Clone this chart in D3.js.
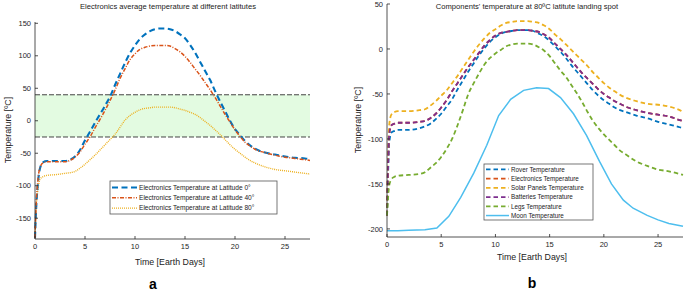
<!DOCTYPE html>
<html><head><meta charset="utf-8">
<script src="https://cdn.jsdelivr.net/npm/d3@7"></script>
<style>body{margin:0;background:#fff}svg{display:block;font-family:"Liberation Sans",Arial,sans-serif}</style>
</head><body>
<svg id="c" width="685" height="292"></svg>
<script>
// ---------- Panel a data ----------
const daysA = [0,0.1,0.3,0.5,0.8,1.2,2,3,3.5,4,4.5,5,5.5,6,6.5,7,7.5,8,8.5,9,9.5,10,10.5,11,11.5,12,12.5,13,13.5,14,14.5,15,15.5,16,16.5,17,17.5,18,18.5,19,19.5,20,20.5,21,21.5,22,23,24,25,26,27,27.5];
const lat0 = [-180,-140,-95,-73,-64,-62,-62,-62,-60,-55,-45,-30,-17,-3,10,23,37,55,72,89,104,116,126,133,138,141,142,142,141,138,133,127,117,105,91,77,63,46,30,15,0,-13,-22,-31,-38,-43,-49,-52,-55,-57,-58,-59];
const lat40 = [-180,-135,-90,-72,-65,-63,-63,-63,-61,-56,-48,-36,-25,-11,2,16,31,47,65,80,94,103,110,113,115,116,116,116,115,111,106,99,90,80,70,59,48,36,23,10,-2,-14,-24,-33,-39,-44,-49,-53,-56,-58,-60,-61];
const lat80 = [-180,-140,-105,-90,-86,-84,-83,-81,-80,-78,-73,-67,-60,-53,-45,-37,-29,-21,-10,1,8,13,17,19,20,21,21,21,21,20,18,16,13,10,5,-1,-7,-14,-21,-29,-37,-44,-50,-56,-61,-65,-71,-75,-77,-79,-81,-82];
const bandA = [40, -25];
const ticksAY = [-150,-100,-50,0,50,100,150];
const ticksX = [0,5,10,15,20,25];
const legendA = ["Electronics Temperature at Latitude 0°","Electronics Temperature at Latitude 40°","Electronics Temperature at Latitude 80°"];

// ---------- Panel b data ----------
const daysB = [0,0.1,0.2,0.4,0.7,1,2,3,3.5,4,4.5,5,5.5,6,6.5,7,7.5,8,8.5,9,9.5,10,10.5,11,11.5,12,12.5,13,13.5,14,14.5,15,15.5,16,16.5,17,17.5,18,18.5,19,19.5,20,20.5,21,21.5,22,23,24,25,26,27,27.3];
const rover = [-185,-140,-105,-93,-91,-90,-90,-88,-86,-83,-78,-72,-64,-56,-45,-35,-25,-16,-7,1,8,13,17,19,20,21,21,21,20,17,14,9,3,-3,-10,-18,-25,-32,-39,-46,-52,-57,-61,-65,-68,-70,-74,-77,-81,-84,-87,-88];
const electronics = [-185,-130,-95,-85,-83,-82,-82,-81,-80,-77,-72,-65,-57,-47,-38,-29,-20,-12,-4,4,10,15,18,19,20,21,21,21,20,19,16,12,6,0,-6,-13,-20,-27,-33,-39,-45,-50,-54,-58,-61,-64,-68,-71,-73,-75,-79,-80];
const solar = [-185,-120,-85,-73,-70,-69,-69,-68,-67,-63,-58,-52,-46,-38,-30,-21,-12,-3,5,12,18,22,26,29,30,31,31,31,30,29,26,22,16,11,5,-1,-7,-13,-19,-26,-32,-38,-43,-47,-51,-54,-58,-61,-62,-64,-68,-70];
const batteries = [-185,-130,-95,-85,-83,-82,-82,-81,-80,-77,-72,-65,-57,-47,-38,-29,-20,-12,-4,4,10,15,18,19,20,21,21,21,20,19,16,12,6,0,-6,-13,-20,-27,-33,-39,-45,-50,-54,-58,-61,-64,-68,-71,-73,-75,-79,-80];
const legs = [-185,-165,-152,-145,-142,-141,-140,-139,-137,-132,-127,-120,-111,-100,-85,-68,-50,-38,-27,-17,-10,-5,-1,3,5,6,6,6,5,2,-2,-8,-16,-24,-31,-40,-49,-59,-70,-80,-88,-95,-101,-107,-113,-117,-125,-130,-134,-136,-139,-140];
const moonDays = [0,1,2,3.5,4.6,5.7,6.8,8,9.2,10.3,11.4,12.6,13.8,14.9,16,17.2,18.4,19.6,20.7,21.8,22.7,24,25,26,27.3];
const moon = [-202,-202,-201.5,-201,-199,-186,-165,-138,-107,-74,-56,-46,-43,-44,-54,-72,-96,-125,-150,-168,-177,-185,-190,-194,-197];
const ticksBY = [-200,-150,-100,-50,0,50];
const legendB = ["Rover Temperature","Electronics Temperature","Solar Panels Temperature","Batteries Temperature","Legs Temperature","Moon Temperature"];

const colors = {blue:"#0072BD", orange:"#D95319", yellow:"#EDB120", purple:"#7E2F8E", green:"#77AC30", cyan:"#4DBEEE"};
const axisCol = "#262626";
const textCol = "#222";
const svg = d3.select("#c");

function drawAxes(g, x, y, yTicks, xTicks) {
  const [x0,x1] = x.range(), [y0,y1] = y.range();
  g.append("line").attr("x1",x0).attr("x2",x0).attr("y1",y0).attr("y2",y1).attr("stroke",axisCol).attr("stroke-width",0.8);
  g.append("line").attr("x1",x0).attr("x2",x1).attr("y1",y0).attr("y2",y0).attr("stroke",axisCol).attr("stroke-width",0.8);
  yTicks.forEach(t => {
    g.append("line").attr("x1",x0).attr("x2",x0+3).attr("y1",y(t)).attr("y2",y(t)).attr("stroke",axisCol).attr("stroke-width",0.8);
    g.append("text").attr("x",x0-4).attr("y",y(t)).attr("dy","0.35em").attr("text-anchor","end").attr("font-size",7.5).attr("fill",axisCol).text(t);
  });
  xTicks.forEach(t => {
    g.append("line").attr("x1",x(t)).attr("x2",x(t)).attr("y1",y0).attr("y2",y0-3).attr("stroke",axisCol).attr("stroke-width",0.8);
    g.append("text").attr("x",x(t)).attr("y",y0+10).attr("text-anchor","middle").attr("font-size",7.5).attr("fill",axisCol).text(t);
  });
}

// ---------- Panel a ----------
{
  const x = d3.scaleLinear().domain([0,27.5]).range([35,310]);
  const y = d3.scaleLinear().domain([-182,152]).range([239,22]);
  const g = svg.append("g");
  g.append("rect").attr("x",x(0)).attr("width",x(27.5)-x(0)).attr("y",y(bandA[0])).attr("height",y(bandA[1])-y(bandA[0])).attr("fill","#e3fbe1");
  bandA.forEach(v => g.append("line").attr("x1",x(0)).attr("x2",x(27.5)).attr("y1",y(v)).attr("y2",y(v)).attr("stroke","#444").attr("stroke-width",1).attr("stroke-dasharray","5,2"));
  const line = d3.line().x((d,i)=>x(daysA[i])).y(d=>y(d)).curve(d3.curveMonotoneX);
  g.append("path").attr("d",line(lat80)).attr("fill","none").attr("stroke",colors.yellow).attr("stroke-width",1.4).attr("stroke-dasharray","1,1");
  g.append("path").attr("d",line(lat0)).attr("fill","none").attr("stroke",colors.blue).attr("stroke-width",2.1).attr("stroke-dasharray","6,3.5");
  g.append("path").attr("d",line(lat40)).attr("fill","none").attr("stroke",colors.orange).attr("stroke-width",1.5).attr("stroke-dasharray","4,1.5,1,1.5");
  drawAxes(g, x, y, ticksAY, ticksX);
  g.append("text").attr("x",168).attr("y",9).attr("text-anchor","middle").attr("font-size",7.6).attr("fill",textCol).text("Electronics average temperature at different latitutes");
  g.append("text").attr("x",170).attr("y",265).attr("text-anchor","middle").attr("font-size",8.8).attr("fill",textCol).text("Time [Earth Days]");
  g.append("text").attr("transform","translate(11,130) rotate(-90)").attr("text-anchor","middle").attr("font-size",8.8).attr("fill",textCol).text("Temperature [ºC]");
  g.append("text").attr("x",153).attr("y",289).attr("text-anchor","middle").attr("font-size",14).attr("font-weight","bold").text("a");
  const lg = g.append("g");
  lg.append("rect").attr("x",110).attr("y",181).attr("width",167).attr("height",33).attr("fill","#fff").attr("stroke","#555").attr("stroke-width",0.8);
  const st = [{c:colors.blue,w:2.1,d:"6,3.5"},{c:colors.orange,w:1.5,d:"4,1.5,1,1.5"},{c:colors.yellow,w:1.4,d:"1,1"}];
  legendA.forEach((t,i)=>{
    const yy = 187.5 + i*10.3;
    lg.append("line").attr("x1",112).attr("x2",137).attr("y1",yy).attr("y2",yy).attr("stroke",st[i].c).attr("stroke-width",st[i].w).attr("stroke-dasharray",st[i].d);
    lg.append("text").attr("x",139).attr("y",yy).attr("dy","0.35em").attr("font-size",6.6).attr("fill",textCol).text(t);
  });
}

// ---------- Panel b ----------
{
  const x = d3.scaleLinear().domain([0,27.3]).range([387,683]);
  const y = d3.scaleLinear().domain([-209,50]).range([237,4]);
  const g = svg.append("g");
  const line = d3.line().x((d,i)=>x(daysB[i])).y(d=>y(d)).curve(d3.curveMonotoneX);
  const series = [[rover,colors.blue],[electronics,colors.orange],[solar,colors.yellow],[batteries,colors.purple],[legs,colors.green]];
  series.forEach(([s,c]) => g.append("path").attr("d",line(s)).attr("fill","none").attr("stroke",c).attr("stroke-width",1.8).attr("stroke-dasharray","4.5,3"));
  const mline = d3.line().x((d,i)=>x(moonDays[i])).y(d=>y(d));
  g.append("path").attr("d",mline(moon)).attr("fill","none").attr("stroke",colors.cyan).attr("stroke-width",1.5);
  drawAxes(g, x, y, ticksBY, ticksX);
  g.append("text").attr("x",527).attr("y",9).attr("text-anchor","middle").attr("font-size",7.6).attr("fill",textCol).text("Components' temperature at 80ºC latitute landing spot");
  g.append("text").attr("x",532).attr("y",260).attr("text-anchor","middle").attr("font-size",8.8).attr("fill",textCol).text("Time [Earth Days]");
  g.append("text").attr("transform","translate(361,120) rotate(-90)").attr("text-anchor","middle").attr("font-size",8.8).attr("fill",textCol).text("Temperature [ºC]");
  g.append("text").attr("x",532).attr("y",288).attr("text-anchor","middle").attr("font-size",14).attr("font-weight","bold").text("b");
  const lg = g.append("g");
  lg.append("rect").attr("x",484).attr("y",164).attr("width",109).attr("height",56).attr("fill","#fff").attr("stroke","#555").attr("stroke-width",0.8);
  const lc = [colors.blue,colors.orange,colors.yellow,colors.purple,colors.green,colors.cyan];
  legendB.forEach((t,i)=>{
    const yy = 169.3 + i*9.25;
    lg.append("line").attr("x1",486).attr("x2",509).attr("y1",yy).attr("y2",yy).attr("stroke",lc[i]).attr("stroke-width",i===5?1.5:1.8).attr("stroke-dasharray",i===5?null:"4.5,3");
    lg.append("text").attr("x",511).attr("y",yy).attr("dy","0.35em").attr("font-size",6.3).attr("fill",textCol).text(t);
  });
}
</script>
</body></html>
